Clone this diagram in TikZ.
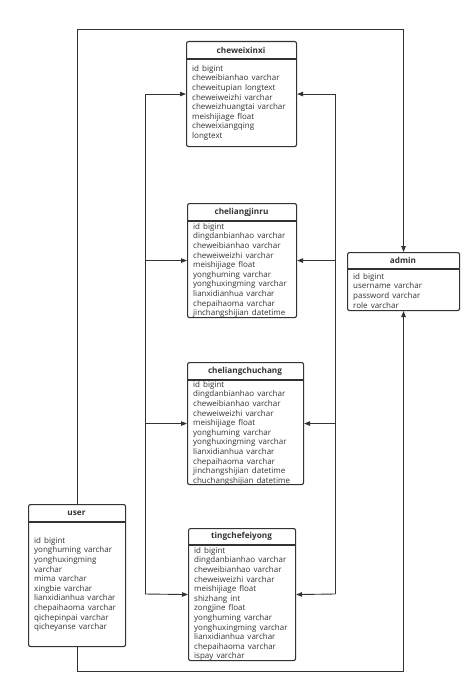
\documentclass[tikz,border=0pt]{standalone}
\usepackage{fontspec}
\setmainfont{Open Sans}[WordSpace=1.5]
\usetikzlibrary{arrows.meta}
\definecolor{ln}{HTML}{333333}
\tikzset{
  x=1pt, y=-1pt,
  tbl/.style={draw=ln, line width=1.1pt, rounded corners=2pt, fill=white, inner sep=0pt, anchor=north west},
  hline/.style={draw=ln, line width=1.1pt},
  ttl/.style={font=\fontsize{8.2}{9}\selectfont\bfseries, text=ln, inner sep=0pt},
  bdy/.style={font=\fontsize{8}{9.6}\selectfont, text=ln, align=left, anchor=north west, inner sep=0pt},
  con/.style={draw=ln, line width=0.9pt},
  arr/.style={con, -{Triangle[length=6pt,width=4.5pt]}},
}
% name, x, y, w, h, header height, title, body top, body
\newcommand\erbox[9]{%
  \node[tbl, minimum width=#4pt, minimum height=#5pt] (#1) at (#2,#3) {};
  \draw[hline] (#2,#3+#6) -- (#2+#4,#3+#6);
  \node[ttl] (#1-t) at (#2+#4/2,#3+#6/2) {#7};
  \node[bdy] (#1-b) at (#2+6,#8) {#9};
}
\begin{document}
\begin{tikzpicture}
\useasboundingbox (0,0) rectangle (474,690);
\fill[white] (0,0) rectangle (474,690);

% connectors
\coordinate (lb) at (145,594);
\coordinate (rb) at (335,594);
\coordinate (ty) at (0,29);
\coordinate (by) at (0,671);

\erbox{cw}{186}{41}{110}{105}{18}{cheweixinxi}{65}{id bigint\\cheweibianhao varchar\\cheweitupian longtext\\cheweiweizhi varchar\\cheweizhuangtai varchar\\meishijiage float\\cheweixiangqing\\longtext}
\erbox{cj}{187}{203}{109}{114}{18}{cheliangjinru}{223}{id bigint\\dingdanbianhao varchar\\cheweibianhao varchar\\cheweiweizhi varchar\\meishijiage float\\yonghuming varchar\\yonghuxingming varchar\\lianxidianhua varchar\\chepaihaoma varchar\\jinchangshijian datetime}
\erbox{cc}{187}{362}{116}{122}{18}{cheliangchuchang}{381}{id bigint\\dingdanbianhao varchar\\cheweibianhao varchar\\cheweiweizhi varchar\\meishijiage float\\yonghuming varchar\\yonghuxingming varchar\\lianxidianhua varchar\\chepaihaoma varchar\\jinchangshijian datetime\\chuchangshijian datetime}
\erbox{tf}{188}{528}{107}{132}{17}{tingchefeiyong}{547}{id bigint\\dingdanbianhao varchar\\cheweibianhao varchar\\cheweiweizhi varchar\\meishijiage float\\shizhang int\\zongjine float\\yonghuming varchar\\yonghuxingming varchar\\lianxidianhua varchar\\chepaihaoma varchar\\ispay varchar}
\erbox{user}{28}{504}{97}{142}{18}{user}{537}{id bigint\\yonghuming varchar\\yonghuxingming\\varchar\\mima varchar\\xingbie varchar\\lianxidianhua varchar\\chepaihaoma varchar\\qichepinpai varchar\\qicheyanse varchar}
\erbox{admin}{347}{252}{112}{58}{17}{admin}{273}{id bigint\\username varchar\\password varchar\\role varchar}

\draw[arr] (lb) |- (cw.west);
\draw[arr] (lb) |- (cj.west);
\draw[arr] (lb) |- (cc.west);
\draw[arr] (lb) -- (tf.west);
\draw[arr] (rb) |- (cw.east);
\draw[arr] (rb) |- (cj.east);
\draw[arr] (rb) |- (cc.east);
\draw[arr] (rb) -- (tf.east);
\draw[arr] (user.north) -- (user.north |- ty) -| (admin.north);
\draw[arr] (user.south) -- (user.south |- by) -| (admin.south);
\end{tikzpicture}
\end{document}
